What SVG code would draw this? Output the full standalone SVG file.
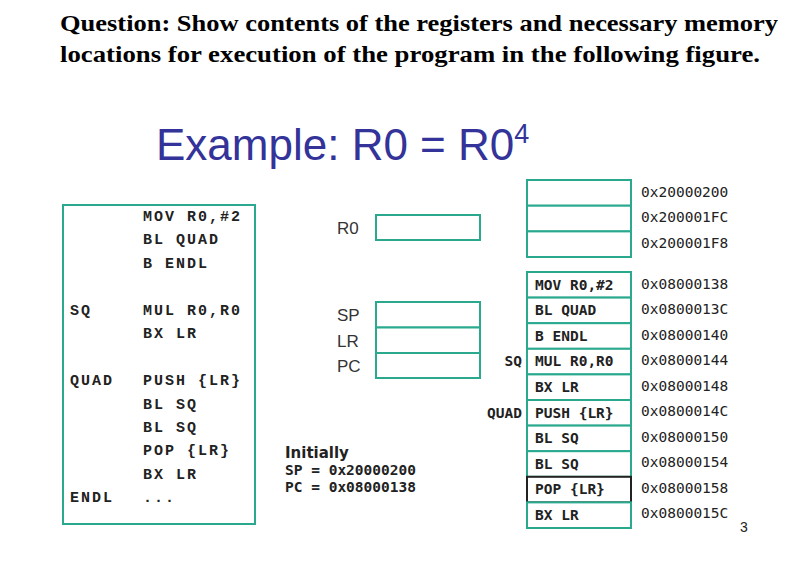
<svg xmlns="http://www.w3.org/2000/svg" width="803" height="579" viewBox="0 0 803 579">
<style>
.b{fill:#fff;stroke:#2aa98e;stroke-width:2}
.q{font-family:"Liberation Serif",serif;font-weight:bold;font-size:24px;fill:#000}
.c{font-family:"Liberation Mono",monospace;font-weight:bold;font-size:15px;letter-spacing:2px;fill:#222}
.m{font-family:"DejaVu Sans Mono",monospace;font-weight:bold;font-size:14.5px;fill:#222}
.a{font-family:"DejaVu Sans Mono",monospace;font-size:14.5px;fill:#222}
.r{font-family:"Liberation Sans",sans-serif;font-size:17px;fill:#333}
</style>
<rect width="803" height="579" fill="#fff"/>
<text class="q" x="60" y="31" textLength="718" lengthAdjust="spacingAndGlyphs">Question: Show contents of the registers and necessary memory</text>
<text class="q" x="60" y="62" textLength="700" lengthAdjust="spacingAndGlyphs">locations for execution of the program in the following figure.</text>
<text x="156" y="160" font-family="Liberation Sans,sans-serif" font-size="44" fill="#333399">Example: R0 = R0<tspan font-size="27" dy="-17">4</tspan></text>
<g id="program">
<rect class="b" x="63" y="205" width="192" height="319"/>
<g class="c">
<text x="143" y="221">MOV R0,#2</text><text x="143" y="244">BL QUAD</text><text x="143" y="268">B ENDL</text>
<text x="70" y="315">SQ</text><text x="143" y="315">MUL R0,R0</text><text x="143" y="338">BX LR</text>
<text x="70" y="385">QUAD</text><text x="143" y="385">PUSH {LR}</text><text x="143" y="409">BL SQ</text>
<text x="143" y="432">BL SQ</text><text x="143" y="455">POP {LR}</text><text x="143" y="479">BX LR</text>
<text x="70" y="502">ENDL</text><text x="143" y="502">...</text>
</g></g>
<g id="registers">
<text class="r" x="337" y="234">R0</text>
<rect class="b" x="376" y="215" width="104" height="25"/>
<text class="r" x="337" y="321">SP</text><text class="r" x="337" y="347">LR</text><text class="r" x="337" y="372">PC</text>
<rect class="b" x="376" y="302" width="104" height="25.5"/>
<rect class="b" x="376" y="327.5" width="104" height="25.5"/>
<rect class="b" x="376" y="353" width="104" height="25"/>
</g>
<g id="initially">
<text x="285" y="458" font-family="DejaVu Sans,sans-serif" font-weight="bold" font-size="15" fill="#222">Initially</text>
<text class="m" x="285" y="475">SP = 0x20000200</text>
<text class="m" x="285" y="492">PC = 0x08000138</text>
</g>
<g id="stack">
<rect class="b" x="527" y="180" width="104" height="25.7"/>
<rect class="b" x="527" y="205.7" width="104" height="25.7"/>
<rect class="b" x="527" y="231.4" width="104" height="25.6"/>
<text class="a" x="641" y="197">0x20000200</text>
<text class="a" x="641" y="222">0x200001FC</text>
<text class="a" x="641" y="248">0x200001F8</text>
</g>
<g id="codemem">
<rect class="b" x="527" y="272" width="104" height="25.6"/>
<rect class="b" x="527" y="297.6" width="104" height="25.6"/>
<rect class="b" x="527" y="323.2" width="104" height="25.6"/>
<rect class="b" x="527" y="348.8" width="104" height="25.6"/>
<rect class="b" x="527" y="374.4" width="104" height="25.6"/>
<rect class="b" x="527" y="400" width="104" height="25.6"/>
<rect class="b" x="527" y="425.6" width="104" height="25.6"/>
<rect class="b" x="527" y="451.2" width="104" height="25.6"/>
<rect class="b" x="527" y="476.8" width="104" height="25.6" style="stroke:#222"/>
<rect class="b" x="527" y="502.4" width="104" height="25.6"/>
<g class="m">
<text x="535" y="290">MOV R0,#2</text><text x="535" y="315">BL QUAD</text><text x="535" y="341">B ENDL</text>
<text x="535" y="366">MUL R0,R0</text><text x="535" y="392">BX LR</text><text x="535" y="418">PUSH {LR}</text>
<text x="535" y="443">BL SQ</text><text x="535" y="469">BL SQ</text><text x="535" y="494">POP {LR}</text><text x="535" y="520">BX LR</text>
<text x="522" y="366" text-anchor="end">SQ</text>
<text x="522" y="418" text-anchor="end">QUAD</text>
</g>
<g class="a">
<text x="641" y="289">0x08000138</text><text x="641" y="314">0x0800013C</text><text x="641" y="340">0x08000140</text>
<text x="641" y="365">0x08000144</text><text x="641" y="391">0x08000148</text><text x="641" y="416">0x0800014C</text>
<text x="641" y="442">0x08000150</text><text x="641" y="467">0x08000154</text><text x="641" y="493">0x08000158</text><text x="641" y="518">0x0800015C</text>
</g>
<text x="740" y="532" font-family="Liberation Sans,sans-serif" font-size="14" fill="#222">3</text>
</g>
</svg>
